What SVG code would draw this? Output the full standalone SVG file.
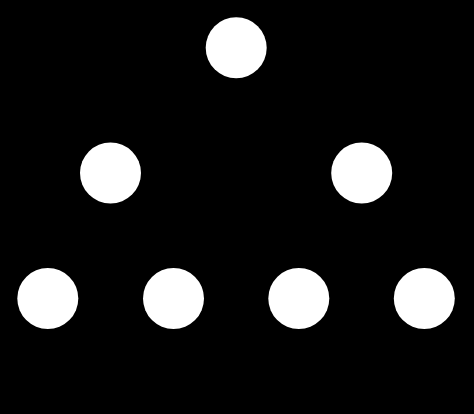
<svg xmlns="http://www.w3.org/2000/svg" width="474" height="414" viewBox="0 0 474 414">
  <style>
    .node { fill: #ffffff; stroke: none; }
  </style>
  <rect x="0" y="0" width="474" height="414" fill="#000000"/>
  <g id="connectors"></g>
  <g id="n1"><circle class="node" cx="236.2" cy="47.8" r="30.5"/></g>
  <g id="n2"><circle class="node" cx="110.5" cy="173" r="30.5"/></g>
  <g id="n3"><circle class="node" cx="361.7" cy="173" r="30.5"/></g>
  <g id="n4"><circle class="node" cx="47.8" cy="298.5" r="30.5"/></g>
  <g id="n5"><circle class="node" cx="173.5" cy="298.5" r="30.5"/></g>
  <g id="n6"><circle class="node" cx="298.8" cy="298.5" r="30.5"/></g>
  <g id="n7"><circle class="node" cx="424.3" cy="298.5" r="30.5"/></g>
</svg>
